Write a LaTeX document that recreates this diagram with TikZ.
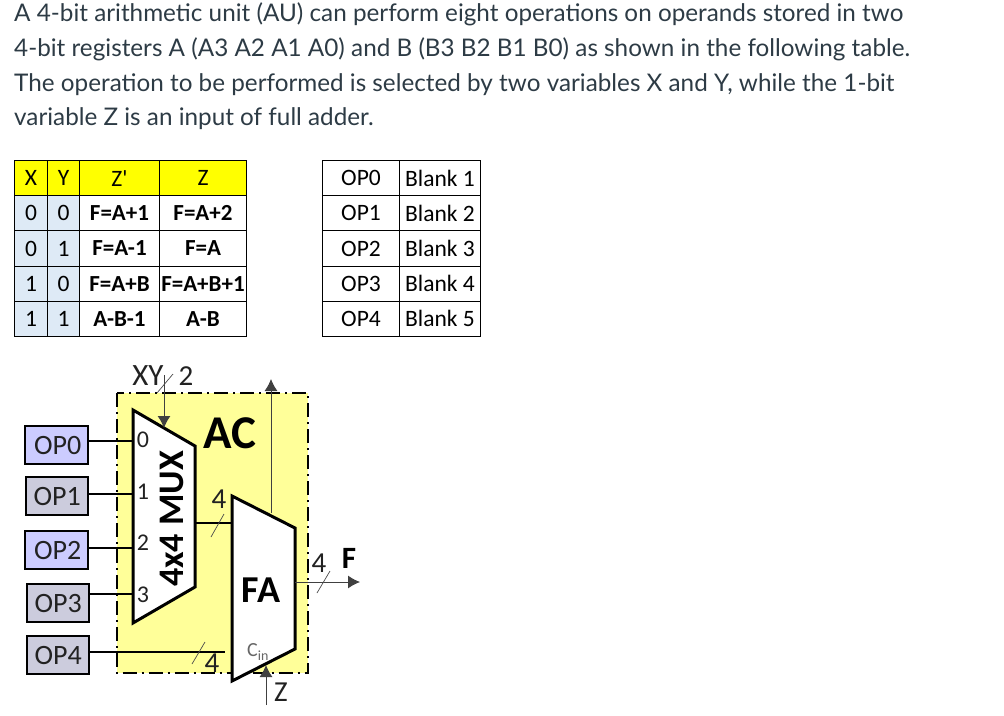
\documentclass[tikz,border=0pt]{standalone}
\usepackage{fontspec}
\setmainfont{Carlito}
\newfontfamily\lato{Lato}
\newfontfamily\plainfont{Carlito}
\usetikzlibrary{
  positioning,
  arrows.meta
}
\definecolor{hdryellow}{HTML}{FFFF00}
\definecolor{keyblue}{HTML}{DEEAF6}
\definecolor{boxyellow}{HTML}{FFFF99}
\definecolor{opblue}{HTML}{CCCCFF}
\definecolor{opgrey}{HTML}{CCCCDD}
\definecolor{bodytext}{HTML}{2D3B45}
\definecolor{wiretext}{HTML}{222222}

\begin{document}
\begin{tikzpicture}[x=1pt,y=-1pt,node distance = 0pt,
    para/.style={anchor=west,inner sep=0,text=bodytext,font=\lato\fontsize{24.27}{24}\selectfont},
    cell/.style={draw,line width=1pt,inner sep=0,outer sep=0,minimum height=35.2pt,font=\fontsize{23.5}{23}\selectfont},
    keyx/.style={cell,fill=keyblue,minimum width=33pt},
    keyy/.style={cell,fill=keyblue,minimum width=32pt},
    cellz/.style={cell,minimum width=80pt,font=\bfseries\fontsize{23}{23}\selectfont},
    cellw/.style={cell,minimum width=87pt,font=\bfseries\fontsize{23}{23}\selectfont},
    opname/.style={cell,minimum width=77pt},
    blank/.style={cell,minimum width=81pt},
    opbox/.style={draw,line width=2.4pt,inner sep=0,minimum width=63pt,minimum height=38pt,text=wiretext,font=\fontsize{28}{28}\selectfont},
    block/.style={draw,line width=3pt,fill=white,line join=miter},
    wire/.style={line width=1.2pt},
    bus/.style={line width=1pt,draw=black!75,-{Latex[length=12pt,width=13pt]}},
    slash/.style={line width=0.7pt,draw=black!70},
    port/.style={inner sep=0,text=wiretext,font=\fontsize{24}{24}\selectfont},
    title/.style={inner sep=0,font=\bfseries\fontsize{36}{36}\selectfont}]
    \useasboundingbox (0,0) rectangle (1004,715);

    \node[para] (line1) at (14,14) {A 4-bit arithmetic unit (AU) can perform eight operations on operands stored in two};
    \node[para] (line2) at (14,49) {4-bit registers A (A3 A2 A1 A0) and B (B3 B2 B1 B0) as shown in the following table.};
    \node[para] (line3) at (14,84.5) {The operation to be performed is selected by two variables X and Y, while the 1-bit};
    \node[para] (line4) at (14,118.5) {variable Z is an input of full adder.};

    % function table
    \node[keyx,fill=hdryellow,anchor=north west] (hx) at (14.5,160.5) {X};
    \node[keyy,fill=hdryellow,right = of hx] (hy) {Y};
    \node[cellz,fill=hdryellow,right = of hy,font=\fontsize{23.5}{23}\selectfont] (hz) {\plainfont Z'};
    \node[cellw,fill=hdryellow,right = of hz,font=\fontsize{23.5}{23}\selectfont] (hw) {Z};
    \node[keyx,below = of hx] (x0) {0};
    \node[keyy,right = of x0] (y0) {0};
    \node[cellz,right = of y0] (z0) {F=A+1};
    \node[cellw,right = of z0] (w0) {F=A+2};
    \node[keyx,below = of x0] (x1) {0};
    \node[keyy,right = of x1] (y1) {1};
    \node[cellz,right = of y1] (z1) {F=A-1};
    \node[cellw,right = of z1] (w1) {F=A};
    \node[keyx,below = of x1] (x2) {1};
    \node[keyy,right = of x2] (y2) {0};
    \node[cellz,right = of y2] (z2) {F=A+B};
    \node[cellw,right = of z2] (w2) {F=A+B+1};
    \node[keyx,below = of x2] (x3) {1};
    \node[keyy,right = of x3] (y3) {1};
    \node[cellz,right = of y3] (z3) {A-B-1};
    \node[cellw,right = of z3] (w3) {A-B};

    % blanks table
    \node[opname,anchor=north west] (n0) at (322.5,160.5) {OP0};
    \node[blank,right = of n0] (b0) {Blank 1};
    \node[opname,below = of n0] (n1) {OP1};
    \node[blank,right = of n1] (b1) {Blank 2};
    \node[opname,below = of n1] (n2) {OP2};
    \node[blank,right = of n2] (b2) {Blank 3};
    \node[opname,below = of n2] (n3) {OP3};
    \node[blank,right = of n3] (b3) {Blank 4};
    \node[opname,below = of n3] (n4) {OP4};
    \node[blank,right = of n4] (b4) {Blank 5};

    % accumulator circuit
    \fill[boxyellow] (116.5,393) rectangle (308,673);
    \draw[line width=2pt,dash pattern=on 14pt off 5pt on 2pt off 5pt] (116.5,393) rectangle (308,673);

    \coordinate (mux0) at (133,441);
    \coordinate (mux1) at (133,494);
    \coordinate (mux2) at (133,548);
    \coordinate (mux3) at (133,594);
    \coordinate (muxsel) at (164,428);
    \coordinate (muxout) at (195,523);
    \coordinate (fain) at (232,523);
    \coordinate (faout) at (295,582);
    \coordinate (facin) at (266,665);
    \coordinate (fatop) at (271,513);
    \coordinate (opend) at (225,652);
    \coordinate (xytop) at (164,375);
    \coordinate (actop) at (271,379);
    \coordinate (fend) at (360,582);
    \coordinate (ztop) at (266,705);

    \draw[block] (133,410) -- (195,446) -- (195,587) -- (133,623) -- cycle;
    \draw[block] (232,496) -- (295,528) -- (295,649) -- (232,681) -- cycle;

    \node[opbox,fill=opblue,anchor=north west] (op0) at (24,425) {\hspace{2pt}OP0};
    \node[opbox,fill=opgrey,minimum width=62pt,anchor=north west] (op1) at (25,476) {OP1};
    \node[opbox,fill=opblue,anchor=north west] (op2) at (24,530) {\hspace{2pt}OP2};
    \node[opbox,fill=opgrey,minimum width=62pt,anchor=north west] (op3) at (26,583) {OP3};
    \node[opbox,fill=opgrey,minimum width=62pt,anchor=north west] (op4) at (26,635) {OP4};

    \draw[wire] (op0.east |- mux0) -- (mux0);
    \draw[wire] (op1.east |- mux1) -- (mux1);
    \draw[wire] (op2.east |- mux2) -- (mux2);
    \draw[wire] (op3.east |- mux3) -- (mux3);
    \draw[wire] (op4.east |- opend) -- (opend);
    \draw[wire] (muxout) -- (fain);
    \draw[bus] (xytop) -- (muxsel);
    \draw[bus] (fatop) -- (actop);
    \draw[bus] (faout) -- (fend);
    \draw[bus] (ztop) -- (facin);

    \draw[slash] (157,393) -- (173,374);
    \draw[slash] (211,537) -- (224,514);
    \draw[slash] (192,664) -- (205,642);
    \draw[slash] (317,593) -- (330,571);

    \node[port] (d0) at (143,440) {0};
    \node[port] (d1) at (143,492) {1};
    \node[port] (d2) at (143,543) {2};
    \node[port] (d3) at (143,595) {3};
    \node[title,rotate=90] (muxname) at (172,519) {4x4 MUX};
    \node[title,font=\bfseries\fontsize{47}{47}\selectfont] (acname) at (230,433) {AC};
    \node[title,font=\bfseries\fontsize{38}{38}\selectfont] (faname) at (261,590) {FA};
    \node[inner sep=0,text=black!60,font=\fontsize{20}{20}\selectfont] (cin) at (258,652) {C\textsubscript{in}};
    \node[port,font=\fontsize{31}{31}\selectfont] (xy) at (148,376) {XY};
    \node[port,font=\fontsize{29}{29}\selectfont] (two) at (186,376) {2};
    \node[port,font=\fontsize{29}{29}\selectfont] (four1) at (219,499) {4};
    \node[port,font=\fontsize{29}{29}\selectfont] (four2) at (212,663) {4};
    \node[port,font=\fontsize{29}{29}\selectfont] (four3) at (319,563) {4};
    \node[title,font=\bfseries\fontsize{31}{31}\selectfont] (fname) at (349,558) {F};
    \node[port,font=\fontsize{29}{29}\selectfont] (zname) at (281,692) {Z};
\end{tikzpicture}
\end{document}
